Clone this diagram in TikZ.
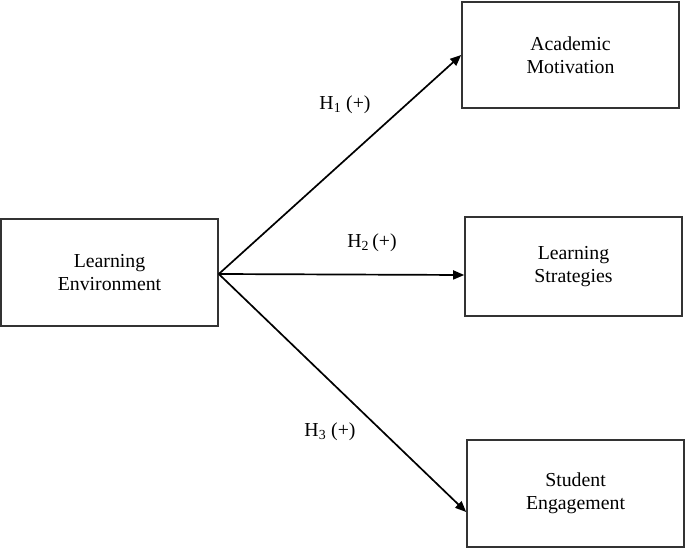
\documentclass[tikz,border=0pt]{standalone}
\usepackage{fontspec}
\setmainfont{Liberation Serif}
\usetikzlibrary{arrows.meta}
\begin{document}
\begin{tikzpicture}[x=1pt,y=-1pt,
  box/.style={draw=black!80,line width=1.6pt,minimum width=217pt,align=center,
    font=\fontsize{19.8}{23}\selectfont,inner sep=0pt},
  conn/.style={line width=1.7pt,-{Triangle[length=11pt,width=9pt]}},
  lab/.style={font=\fontsize{19.8}{23}\selectfont,inner sep=0pt}]
\useasboundingbox (0,0) rectangle (685,548);
\node[box,minimum height=107pt] (le) at (109.5,272.5) {Learning\\Environment};
\node[box,minimum height=106pt] (am) at (570.5,55) {Academic\\Motivation};
\node[box,minimum height=99pt] (ls) at (573.5,266.5) {Learning\\Strategies};
\node[box,minimum height=107pt] (se) at (575.5,493.5) {Student\\Engagement};
\coordinate (src) at ([yshift=-1.5pt]le.east);
\coordinate (lsin) at ([yshift=-8.5pt]ls.west);
\coordinate (sein) at ([yshift=-18.5pt]se.west);
\draw[conn] (src) -- (am.west);
\draw[conn] (src) -- (lsin);
\draw[conn] (src) -- (sein);
\node[lab] (h1) at (345,105) {H\textsubscript{1} (+)};
\node[lab] (h2) at (372,243) {H\textsubscript{2}\,(+)};
\node[lab] (h3) at (330,432) {H\textsubscript{3} (+)};
\end{tikzpicture}
\end{document}
